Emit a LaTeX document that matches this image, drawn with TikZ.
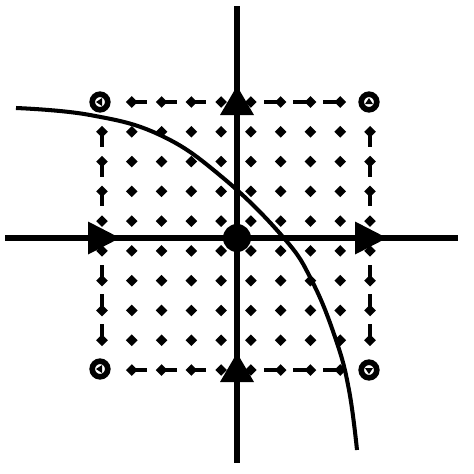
\documentclass[tikz,border=0pt]{standalone}
\usepackage{tikz}

\begin{document}
\begin{tikzpicture}[x=0.02cm,y=-0.02cm,
    axisline/.style={line width=2.9pt},
    orbit/.style={line width=2.3pt},
    edgedash/.style={line width=2.4pt},
    ring/.style={line width=3.2pt, fill=white}]
      \useasboundingbox (0,0) rectangle (474,474);

      % axes
      \coordinate (west) at (5,238);
      \coordinate (east) at (458,238);
      \coordinate (north) at (237,6);
      \coordinate (south) at (237,463);
      \coordinate (origin) at (237,238);
      \draw[axisline] (west) -- (east);
      \draw[axisline] (north) -- (south);

      % lattice of points
      \foreach \i in {0,...,9}
        \foreach \j in {0,...,9}
          \fill[shift={(102+29.78*\i,102+29.78*\j)}] (-5.8,0) -- (0,-5.8) -- (5.8,0) -- (0,5.8) -- cycle;

      % dashes on the border
      \foreach \i in {1,2,3} {
        \draw[edgedash] (102+29.78*\i,102) -- ++(15,0);
        \draw[edgedash] (102+29.78*\i,370) -- ++(15,0);
        \draw[edgedash] (102,102+29.78*\i) -- ++(0,15);
        \draw[edgedash] (370,102+29.78*\i) -- ++(0,15);
      }
      \foreach \i in {6,7,8} {
        \draw[edgedash] (102+29.78*\i,102) -- ++(-17,0);
        \draw[edgedash] (102+29.78*\i,370) -- ++(-17,0);
        \draw[edgedash] (102,102+29.78*\i) -- ++(0,-16);
        \draw[edgedash] (370,102+29.78*\i) -- ++(0,-16);
      }

      % corners
      \draw[ring] (100,102) circle (7.8);
      \draw[ring] (369,102) circle (7.8);
      \draw[ring] (100,369) circle (7.8);
      \draw[ring] (369,370) circle (7.8);
      \fill (96,102) -- (102,98) -- (102,106) -- cycle;
      \fill (369,98) -- (365,104) -- (373,104) -- cycle;
      \fill (96,369) -- (102,365) -- (102,373) -- cycle;
      \fill (369,374) -- (365,368) -- (373,368) -- cycle;

      % curve
      \draw[orbit] plot[smooth, tension=0.7] coordinates {(16,108) (90,115) (160,135) (222,177) (283,237) (312,281) (336,340) (349,390) (357,450)};

      % triangles on the axes
      \fill[shift={(237,101)}] (0,-15) -- (17,14) -- (-17,14) -- cycle;
      \fill[shift={(237,368)}] (0,-15) -- (17,14) -- (-17,14) -- cycle;
      \fill[shift={(104,238)}] (16,0) -- (-16,-16.5) -- (-16,16.5) -- cycle;
      \fill[shift={(371,238)}] (16,0) -- (-16,-16.5) -- (-16,16.5) -- cycle;

      % fixed point
      \fill (origin) circle (14);
\end{tikzpicture}
\end{document}
